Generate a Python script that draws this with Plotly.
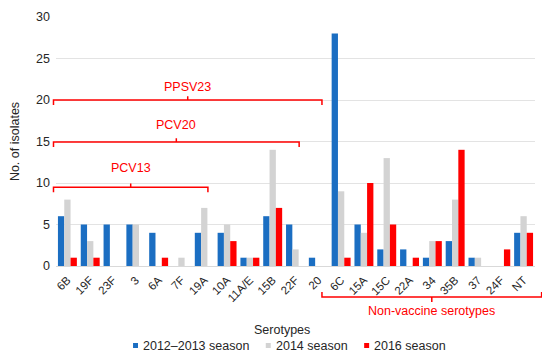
import plotly.graph_objects as go

categories = ["6B", "19F", "23F", "3", "6A", "7F", "19A", "10A", "11A/E", "15B", "22F",
              "20", "6C", "15A", "15C", "22A", "34", "35B", "37", "24F", "NT"]
s2012 = [6, 5, 5, 5, 4, 0, 4, 4, 1, 6, 5, 1, 28, 5, 2, 2, 1, 3, 1, 0, 4]
s2014 = [8, 3, 0, 5, 0, 1, 7, 5, 1, 14, 2, 0, 9, 4, 13, 0, 3, 8, 1, 0, 6]
s2016 = [1, 1, 0, 0, 1, 0, 0, 3, 1, 7, 0, 0, 1, 10, 5, 1, 3, 14, 0, 2, 4]
series_names = ["2012–2013 season", "2014 season", "2016 season"]
colors = ["#1B6EC2", "#D3D3D3", "#FF0000"]

FONT = "Arial, Liberation Sans, sans-serif"
RED = "#FF0000"
TXT = "#262626"
FS = 12.5

# plot area geometry in figure pixels
W, H = 542, 350
L, R, T, B = 47.5, 14.5, 9, 92
PW = W - L - R
PH = H - T - B

def xpaper(pix):
    return (pix - L) / PW

def ypaper(pix):
    return (H - B - pix) / PH

fig = go.Figure()
for name, vals, c in zip(series_names, [s2012, s2014, s2016], colors):
    fig.add_trace(go.Bar(x=categories, y=vals, name=name, marker_color=c,
                         marker_line_width=0, showlegend=False))

N = len(categories)
def px(i):
    return (i + 0.5) / N

shapes = []
annotations = []

# vaccine brackets above bars
groups = [("PPSV23", 11, 20.0, 21.6), ("PCV20", 10, 14.95, 17.0), ("PCV13", 6, 9.5, 11.8)]
for label, last, ybar, ylab in groups:
    x0 = px(-0.61)
    x1 = px(last + 0.16)
    xm = (x0 + x1) / 2
    d = 0.6
    path = (f"M {x0},{ybar - d} L {x0},{ybar} L {x1},{ybar} L {x1},{ybar - d} "
            f"M {xm},{ybar} L {xm},{ybar + 0.45}")
    shapes.append(dict(type="path", path=path, xref="paper", yref="y",
                       line=dict(color=RED, width=1.5)))
    annotations.append(dict(x=xm, y=ylab, xref="paper", yref="y", text=label,
                            xanchor="center", yanchor="middle",
                            showarrow=False, font=dict(color=RED, size=FS, family=FONT)))

# non-vaccine bracket below axis
x0 = px(11.16)
x1 = px(20.79)
xm = (x0 + x1) / 2
yb = -0.1245
path = (f"M {x0},{yb + 0.02} L {x0},{yb} L {x1},{yb} L {x1},{yb + 0.02} "
        f"M {xm},{yb} L {xm},{yb - 0.02}")
shapes.append(dict(type="path", path=path, xref="paper", yref="paper",
                   line=dict(color=RED, width=1.5)))
annotations.append(dict(x=xm, y=-0.181, xref="paper", yref="paper",
                        text="Non-vaccine serotypes", showarrow=False,
                        xanchor="center", yanchor="middle",
                        font=dict(color=RED, size=FS, family=FONT)))

annotations.append(dict(x=xpaper(274), y=ypaper(321.5), xref="paper", yref="paper",
                        text="Serotypes", showarrow=False,
                        xanchor="center", yanchor="middle",
                        font=dict(color=TXT, size=FS, family=FONT)))

# legend (square swatch + label)
legend_x = [124.7, 257.7, 356.3]
legend_y = 337.5
sq = 5
for name, c, lx in zip(series_names, colors, legend_x):
    shapes.append(dict(type="rect", xref="paper", yref="paper",
                       x0=xpaper(lx), x1=xpaper(lx + sq),
                       y0=ypaper(legend_y + sq / 2), y1=ypaper(legend_y - sq / 2),
                       fillcolor=c, line=dict(width=0)))
    annotations.append(dict(x=xpaper(lx + sq + 3), y=ypaper(legend_y), xref="paper",
                            yref="paper", text=name, showarrow=False,
                            xanchor="left", yanchor="middle",
                            font=dict(color=TXT, size=FS, family=FONT)))

fig.update_layout(
    width=W, height=H,
    margin=dict(l=L, r=R, t=T, b=B, autoexpand=False),
    paper_bgcolor="white", plot_bgcolor="white",
    font=dict(family=FONT, size=FS, color=TXT),
    barmode="group", bargap=0.17, bargroupgap=0,
    shapes=shapes, annotations=annotations,
    showlegend=False,
    xaxis=dict(tickangle=-45, tickfont=dict(size=11.5, color=TXT),
               showline=True, linecolor="#D9D9D9", ticks="", automargin=False,
               ticklabelstandoff=2),
    yaxis=dict(range=[0, 30], dtick=5, showgrid=True, gridcolor="#E3E3E3",
               zeroline=False, tickfont=dict(size=FS, color=TXT),
               ticks="", automargin=False, ticklabelstandoff=5,
               title=dict(text="No. of isolates", font=dict(size=FS, color=TXT),
                          standoff=14)),
)

fig.write_html("out.html")
